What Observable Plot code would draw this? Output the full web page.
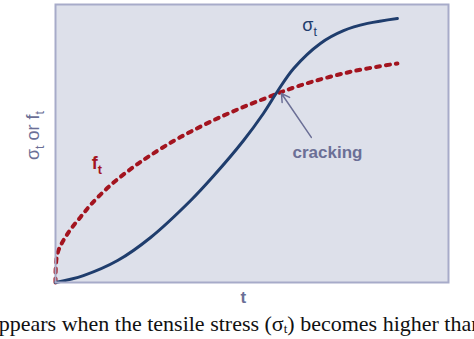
<!DOCTYPE html>
<html><head><meta charset="utf-8">
<script src="https://cdn.jsdelivr.net/npm/d3@7"></script>
<script src="https://cdn.jsdelivr.net/npm/@observablehq/plot@0.6"></script>
<style>
body{margin:0;background:#fff;width:474px;height:339px;overflow:hidden;position:relative}
#chart svg{display:block}
#cap{font-family:"Liberation Serif","Times New Roman",serif;font-size:22px;white-space:nowrap;position:absolute;left:-11px;top:311px;color:#111;line-height:26px}
#cap sub{font-size:13px;vertical-align:-2px}
</style></head><body>
<div id="chart"></div>
<div id="cap">appears when the tensile stress (σ<sub>t</sub>) becomes higher than f<sub>t</sub></div>
<script>
// σt (tensile stress) curve
const tSigma = [0, 7.1, 15.8, 24.2, 34.4, 40.2, 47.8, 52.9, 56.5, 60.6, 67.4, 73.3, 79.4, 87.0];
const sigma  = [0, 2.5, 7.9, 16.2, 29.5, 38.3, 51.0, 60.8, 68.8, 77.0, 86.0, 90.6, 93.2, 95.0];
// ft (tensile strength) curve
const tF   = [0, 0.5, 3.1, 6.4, 9.3, 14.0, 19.1, 24.2, 31.8, 42.7, 52.9, 62.3, 75.1, 87.0];
const fVal = [0, 10.4, 17.6, 23.6, 28.5, 35.0, 40.8, 45.8, 52.3, 60.0, 66.0, 70.9, 75.8, 78.8];

const sigmaData = tSigma.map((t, i) => ({t, v: sigma[i]}));
const fData = tF.map((t, i) => ({t, v: fVal[i]}));

const labelColor = "#6b6f96";
const blue = "#1f3d6d";
const red = "#a3141f";

const plot = Plot.plot({
  width: 474, height: 312,
  marginLeft: 55, marginRight: 26, marginTop: 4, marginBottom: 30,
  x: {domain: [0, 100], axis: null},
  y: {domain: [0, 100], axis: null},
  style: {fontFamily: "'Liberation Sans', Arial, sans-serif", background: "transparent"},
  marks: [
    Plot.frame({fill: "#dde0ea", stroke: null}),
    Plot.line(fData, {x: "t", y: "v", stroke: red, strokeWidth: 4, strokeDasharray: "4,6", curve: "catmull-rom"}),
    Plot.line(sigmaData, {x: "t", y: "v", stroke: blue, strokeWidth: 3, curve: "catmull-rom"}),
    Plot.frame({stroke: "#a7abc9", strokeWidth: 2}),
    Plot.arrow([{x1: 65.1, y1: 52.2, x2: 57.5, y2: 68.0}], {x1: "x1", y1: "y1", x2: "x2", y2: "y2", stroke: labelColor, strokeWidth: 1.5, headLength: 9}),
    Plot.text(["cracking"], {x: 60.3, y: 46.8, text: d => d, textAnchor: "start", fill: labelColor, fontSize: 17, fontWeight: "bold"}),
    Plot.text(["σ_t"], {x: 62.8, y: 92.4, text: d => d, textAnchor: "start", fill: blue, fontSize: 18}),
    Plot.text(["f_t"], {x: 9.2, y: 42.8, text: d => d, textAnchor: "start", fill: red, fontSize: 18, fontWeight: "bold"}),
    Plot.text(["t"], {x: 47.8, frameAnchor: "bottom", dy: 20, text: d => d, fill: labelColor, fontSize: 17, fontWeight: "bold"}),
    Plot.text(["σ_t or f_t"], {y: 52.9, frameAnchor: "left", dx: -22, rotate: -90, textAnchor: "middle", text: d => d, fill: labelColor, fontSize: 18})
  ]
});

d3.select(plot).selectAll("text").each(function() {
  const t = this.textContent;
  if (!t.includes("_")) return;
  const parts = t.split(/_(\w)/);
  this.textContent = "";
  parts.forEach((p, i) => {
    if (!p) return;
    const ts = d3.select(this).append("tspan").text(p);
    if (i % 2 === 1) ts.attr("font-size", "70%").attr("dy", "5");
    else if (i > 0) ts.attr("dy", "-5");
  });
});

document.getElementById("chart").appendChild(plot);
</script>
</body></html>
